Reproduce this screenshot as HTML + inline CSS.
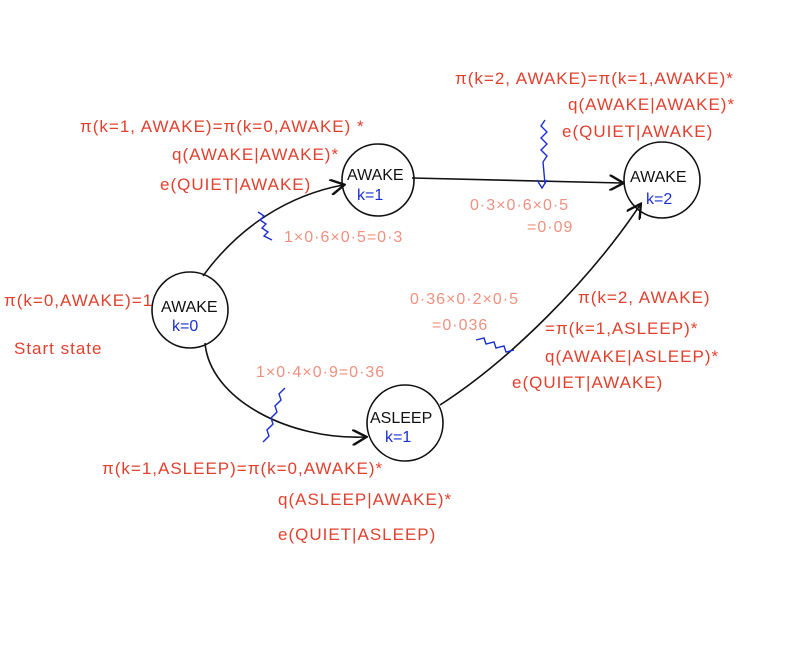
<!DOCTYPE html>
<html><head><meta charset="utf-8"><style>
html,body{margin:0;padding:0;background:#fff}
svg{display:block}
.r{fill:#e0412f;font-family:"Liberation Sans",sans-serif;font-size:17px;letter-spacing:1px}
.p{fill:#f0907f;font-family:"Liberation Sans",sans-serif;font-size:16px;letter-spacing:1px}
.k{fill:#111;font-family:"Liberation Sans",sans-serif;font-size:16px}
.b{fill:#1a2fd0;font-family:"Liberation Sans",sans-serif;font-size:16px}
</style></head><body>
<svg width="800" height="661" viewBox="0 0 800 661" xmlns="http://www.w3.org/2000/svg">
<defs><marker id="a" markerWidth="10" markerHeight="10" refX="8" refY="5" orient="auto"><path d="M0,0 L9,5 L0,10" fill="none" stroke="#111" stroke-width="1.5"/></marker></defs>
<g fill="none" stroke="#111" stroke-width="1.6">
<circle cx="190" cy="310" r="38"/>
<circle cx="378" cy="180" r="36"/>
<circle cx="405" cy="423" r="38"/>
<circle cx="662" cy="180" r="38"/>
<path d="M203,276 C240,225 290,195 343,185" marker-end="url(#a)"/>
<path d="M205,343 C210,400 290,440 365,437" marker-end="url(#a)"/>
<path d="M412,178 L622,183" marker-end="url(#a)"/>
<path d="M440,405 C510,360 590,280 640,205" marker-end="url(#a)"/>
</g>
<g fill="none" stroke="#1a2fd0" stroke-width="1.4">
<path d="M258,212 l6,4 l-4,4 l6,4 l-4,4 l6,4 l-4,4 l8,4"/>
<path d="M545,120 l-4,6 l6,6 l-6,6 l6,6 l-6,6 l6,6 l-4,6 l2,22 M537,180 l5,8 l5,-8"/>
<path d="M476,340 l8,-2 l2,6 l8,-2 l2,6 l8,-2 l2,6 l8,-2"/>
<path d="M263,442 l6,-6 l-2,-6 l6,-6 l-2,-6 l6,-6 l-2,-6 l6,-6 l-2,-6 l6,-6"/>
</g>
<text class="k" x="161" y="312">AWAKE</text><text class="b" x="172" y="331">k=0</text>
<text class="k" x="347" y="180">AWAKE</text><text class="b" x="357" y="200">k=1</text>
<text class="k" x="370" y="423">ASLEEP</text><text class="b" x="385" y="442">k=1</text>
<text class="k" x="630" y="182">AWAKE</text><text class="b" x="646" y="204">k=2</text>
<text class="r" x="80" y="132">π(k=1, AWAKE)=π(k=0,AWAKE) *</text>
<text class="r" x="172" y="160">q(AWAKE|AWAKE)*</text>
<text class="r" x="160" y="190">e(QUIET|AWAKE)</text>
<text class="p" x="284" y="242">1×0·6×0·5=0·3</text>
<text class="r" x="4" y="306">π(k=0,AWAKE)=1</text>
<text class="r" x="14" y="354">Start state</text>
<text class="p" x="256" y="377">1×0·4×0·9=0·36</text>
<text class="r" x="102" y="474">π(k=1,ASLEEP)=π(k=0,AWAKE)*</text>
<text class="r" x="278" y="505">q(ASLEEP|AWAKE)*</text>
<text class="r" x="278" y="540">e(QUIET|ASLEEP)</text>
<text class="r" x="455" y="84">π(k=2, AWAKE)=π(k=1,AWAKE)*</text>
<text class="r" x="568" y="110">q(AWAKE|AWAKE)*</text>
<text class="r" x="562" y="137">e(QUIET|AWAKE)</text>
<text class="p" x="470" y="210">0·3×0·6×0·5</text>
<text class="p" x="527" y="232">=0·09</text>
<text class="p" x="410" y="304">0·36×0·2×0·5</text>
<text class="p" x="432" y="330">=0·036</text>
<text class="r" x="578" y="303">π(k=2, AWAKE)</text>
<text class="r" x="545" y="334">=π(k=1,ASLEEP)*</text>
<text class="r" x="545" y="362">q(AWAKE|ASLEEP)*</text>
<text class="r" x="512" y="388">e(QUIET|AWAKE)</text>
</svg>
</body></html>
